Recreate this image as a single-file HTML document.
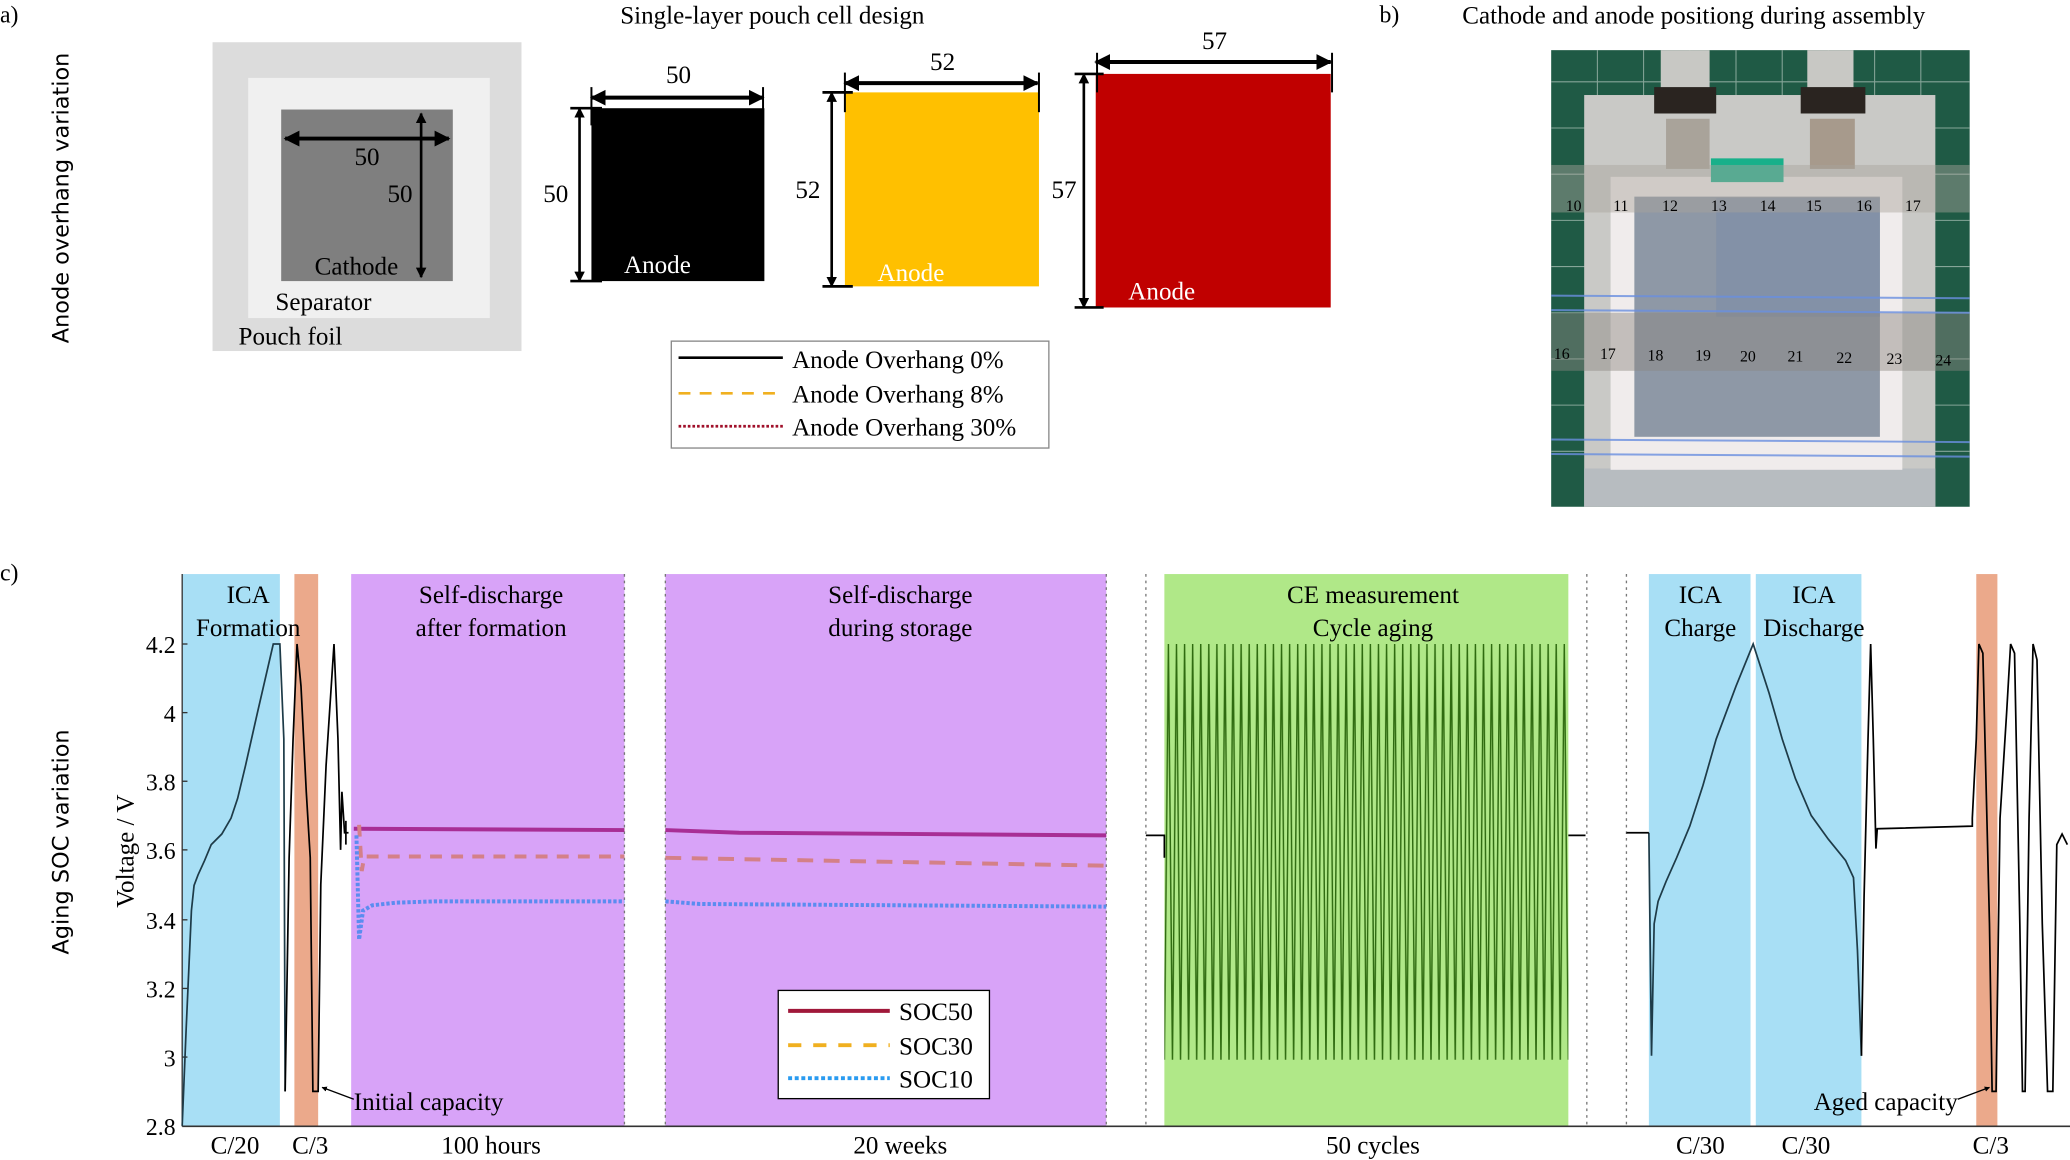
<!DOCTYPE html>
<html><head><meta charset="utf-8"><style>
html,body{margin:0;padding:0;background:#fff;width:2070px;height:1160px;overflow:hidden}
svg{display:block}
text{font-family:"Liberation Serif",serif;fill:#000}
</style></head><body>
<svg width="2070" height="1160" viewBox="0 0 1568 879" preserveAspectRatio="none" xmlns="http://www.w3.org/2000/svg">
<defs>
<marker id="ah" viewBox="0 0 10 10" refX="9" refY="5" markerWidth="4" markerHeight="4" orient="auto-start-reverse"><path d="M0,0L10,5L0,10z" fill="#000"/></marker>
<pattern id="zig" x="882" y="0" width="6.12" height="879" patternUnits="userSpaceOnUse">
<polyline points="0,803 3.06,488 6.12,803" fill="none" stroke="#2f6b10" stroke-width="1.1"/>
</pattern>
</defs>
<text x="0" y="17" font-size="18">a)</text>
<text x="1045" y="17" font-size="18">b)</text>
<text x="0" y="440" font-size="18">c)</text>
<text x="585" y="18" font-size="19" text-anchor="middle">Single-layer pouch cell design</text>
<text x="1283" y="18" font-size="19" text-anchor="middle">Cathode and anode positiong during assembly</text>
<text transform="translate(52,150) rotate(-90)" text-anchor="middle" style="font-family:'DejaVu Sans',sans-serif;font-size:17px">Anode overhang variation</text>
<text transform="translate(52,638) rotate(-90)" text-anchor="middle" style="font-family:'DejaVu Sans',sans-serif;font-size:17px">Aging SOC variation</text>

<rect x="161" y="32" width="234" height="234" fill="#dcdcdc"/>
<rect x="188" y="59" width="183" height="182" fill="#f0f0f0"/>
<rect x="213" y="83" width="130" height="130" fill="#7f7f7f"/>
<line x1="216" y1="105" x2="340" y2="105" stroke="#000" stroke-width="3" marker-start="url(#ah)" marker-end="url(#ah)"/>
<line x1="319" y1="86" x2="319" y2="210" stroke="#000" stroke-width="2" marker-start="url(#ah)" marker-end="url(#ah)"/>
<text x="278" y="125" font-size="19" text-anchor="middle">50</text>
<text x="303" y="153" font-size="19" text-anchor="middle">50</text>
<text x="270" y="208" font-size="19" text-anchor="middle">Cathode</text>
<text x="245" y="235" font-size="19" text-anchor="middle">Separator</text>
<text x="220" y="261" font-size="19" text-anchor="middle">Pouch foil</text>

<rect x="448" y="82" width="131" height="131" fill="#000"/>
<line x1="448" y1="74" x2="578" y2="74" stroke="#000" stroke-width="3" marker-start="url(#ah)" marker-end="url(#ah)"/>
<line x1="448" y1="66" x2="448" y2="95" stroke="#000" stroke-width="1.5"/><line x1="578" y1="66" x2="578" y2="95" stroke="#000" stroke-width="1.5"/>
<line x1="439" y1="82" x2="439" y2="213" stroke="#000" stroke-width="2" marker-start="url(#ah)" marker-end="url(#ah)"/>
<line x1="432" y1="82" x2="456" y2="82" stroke="#000" stroke-width="2"/><line x1="432" y1="213" x2="456" y2="213" stroke="#000" stroke-width="2"/>
<text x="514" y="63" font-size="19" text-anchor="middle">50</text>
<text x="421" y="153" font-size="19" text-anchor="middle">50</text>
<text x="498" y="207" font-size="19" text-anchor="middle" style="fill:#fff">Anode</text>

<rect x="640" y="70" width="147" height="147" fill="#ffc000"/>
<line x1="640" y1="63" x2="786" y2="63" stroke="#000" stroke-width="3" marker-start="url(#ah)" marker-end="url(#ah)"/>
<line x1="640" y1="55" x2="640" y2="85" stroke="#000" stroke-width="1.5"/><line x1="787" y1="55" x2="787" y2="85" stroke="#000" stroke-width="1.5"/>
<line x1="630" y1="70" x2="630" y2="217" stroke="#000" stroke-width="2" marker-start="url(#ah)" marker-end="url(#ah)"/>
<line x1="623" y1="70" x2="646" y2="70" stroke="#000" stroke-width="2"/><line x1="623" y1="217" x2="646" y2="217" stroke="#000" stroke-width="2"/>
<text x="714" y="53" font-size="19" text-anchor="middle">52</text>
<text x="612" y="150" font-size="19" text-anchor="middle">52</text>
<text x="690" y="213" font-size="19" text-anchor="middle" style="fill:#fff">Anode</text>

<rect x="830" y="56" width="178" height="177" fill="#c00000"/>
<line x1="830" y1="47" x2="1008" y2="47" stroke="#000" stroke-width="3" marker-start="url(#ah)" marker-end="url(#ah)"/>
<line x1="831" y1="40" x2="831" y2="70" stroke="#000" stroke-width="1.5"/><line x1="1009" y1="40" x2="1009" y2="70" stroke="#000" stroke-width="1.5"/>
<line x1="821" y1="56" x2="821" y2="233" stroke="#000" stroke-width="2" marker-start="url(#ah)" marker-end="url(#ah)"/>
<line x1="814" y1="56" x2="836" y2="56" stroke="#000" stroke-width="2"/><line x1="814" y1="233" x2="836" y2="233" stroke="#000" stroke-width="2"/>
<text x="920" y="37" font-size="19" text-anchor="middle">57</text>
<text x="806" y="150" font-size="19" text-anchor="middle">57</text>
<text x="880" y="227" font-size="19" text-anchor="middle" style="fill:#fff">Anode</text>

<rect x="508.5" y="258.5" width="286" height="81" fill="#fff" stroke="#888" stroke-width="1"/>
<line x1="514" y1="271" x2="593" y2="271" stroke="#000" stroke-width="2"/>
<line x1="514" y1="298" x2="593" y2="298" stroke="#f0b020" stroke-width="2" stroke-dasharray="9,7"/>
<line x1="514" y1="323" x2="593" y2="323" stroke="#a0102a" stroke-width="2" stroke-dasharray="2,1.5"/>
<text x="600" y="279" font-size="19">Anode Overhang 0%</text>
<text x="600" y="305" font-size="19">Anode Overhang 8%</text>
<text x="600" y="330" font-size="19">Anode Overhang 30%</text>

<rect x="1175" y="38" width="317" height="346" fill="#1f5a45"/>
<g stroke="#9fb8ad" stroke-width="0.8" opacity="0.8">
<line x1="1210" y1="38" x2="1210" y2="384"/><line x1="1245" y1="38" x2="1245" y2="384"/><line x1="1280" y1="38" x2="1280" y2="384"/><line x1="1315" y1="38" x2="1315" y2="384"/><line x1="1350" y1="38" x2="1350" y2="384"/><line x1="1385" y1="38" x2="1385" y2="384"/><line x1="1420" y1="38" x2="1420" y2="384"/><line x1="1455" y1="38" x2="1455" y2="384"/>
<line x1="1175" y1="62" x2="1492" y2="62"/><line x1="1175" y1="97" x2="1492" y2="97"/><line x1="1175" y1="132" x2="1492" y2="132"/><line x1="1175" y1="167" x2="1492" y2="167"/><line x1="1175" y1="202" x2="1492" y2="202"/><line x1="1175" y1="237" x2="1492" y2="237"/><line x1="1175" y1="272" x2="1492" y2="272"/><line x1="1175" y1="307" x2="1492" y2="307"/><line x1="1175" y1="342" x2="1492" y2="342"/>
</g>
<rect x="1258" y="38" width="37" height="80" fill="#c8c8c4"/>
<rect x="1369" y="38" width="35" height="80" fill="#c8c8c4"/>
<rect x="1200" y="72" width="266" height="312" fill="#c9c9c6"/>
<rect x="1200" y="355" width="266" height="29" fill="#b7bcc0"/>
<rect x="1262" y="90" width="33" height="38" fill="#a9a39a"/>
<rect x="1371" y="90" width="34" height="38" fill="#a79a8c"/>
<rect x="1253" y="66" width="47" height="20" fill="#2a2420"/>
<rect x="1364" y="66" width="49" height="20" fill="#2a2420"/>
<rect x="1220" y="134" width="221" height="222" fill="#f0ecec"/>
<rect x="1238" y="149" width="186" height="182" fill="#8e98a6"/>
<rect x="1300" y="150" width="124" height="90" fill="#7f8fa8" opacity="0.7"/>
<rect x="1296" y="120" width="55" height="18" fill="#18b08a"/>
<rect x="1175" y="125" width="317" height="36" fill="#a8a49c" opacity="0.45"/>
<rect x="1175" y="237" width="317" height="44" fill="#8c8880" opacity="0.45"/>
<g font-size="12" style="font-family:'Liberation Sans',sans-serif" fill="#222">
<text x="1186" y="160">10</text><text x="1222" y="160">11</text><text x="1259" y="160">12</text><text x="1296" y="160">13</text><text x="1333" y="160">14</text><text x="1368" y="160">15</text><text x="1406" y="160">16</text><text x="1443" y="160">17</text>
<text x="1177" y="272">16</text><text x="1212" y="272">17</text><text x="1248" y="273">18</text><text x="1284" y="273">19</text><text x="1318" y="274">20</text><text x="1354" y="274">21</text><text x="1391" y="275">22</text><text x="1429" y="276">23</text><text x="1466" y="277">24</text>
</g>
<g stroke="#6a8fe0" stroke-width="1.5" opacity="0.8"><line x1="1175" y1="224" x2="1492" y2="226"/><line x1="1175" y1="235" x2="1492" y2="237"/><line x1="1175" y1="333" x2="1492" y2="335"/><line x1="1175" y1="344" x2="1492" y2="346"/></g>

<rect x="138" y="435" width="74" height="418" fill="#a8dff5"/>
<rect x="223" y="435" width="18" height="418" fill="#eba98b"/>
<rect x="266" y="435" width="207" height="418" fill="#d8a3f8"/>
<rect x="504" y="435" width="334" height="418" fill="#d8a3f8"/>
<rect x="882" y="435" width="306" height="418" fill="#b0e888"/>
<rect x="1249" y="435" width="77" height="418" fill="#a8dff5"/>
<rect x="1330" y="435" width="80" height="418" fill="#a8dff5"/>
<rect x="1497" y="435" width="16" height="418" fill="#eba98b"/>
<g stroke="#777" stroke-width="1" stroke-dasharray="2,3">
<line x1="473" y1="435" x2="473" y2="853"/><line x1="504" y1="435" x2="504" y2="853"/>
<line x1="838" y1="435" x2="838" y2="853"/><line x1="868" y1="435" x2="868" y2="853"/>
<line x1="1202" y1="435" x2="1202" y2="853"/><line x1="1232" y1="435" x2="1232" y2="853"/>
</g>
<rect x="882" y="486" width="306" height="320" fill="url(#zig)"/>

<line x1="138" y1="435" x2="138" y2="853.5" stroke="#333" stroke-width="1"/>
<line x1="138" y1="853.5" x2="1568" y2="853.5" stroke="#333" stroke-width="1.2"/>
<g stroke="#333" stroke-width="1">
<line x1="138" y1="488" x2="142" y2="488"/><line x1="138" y1="540" x2="142" y2="540"/><line x1="138" y1="592" x2="142" y2="592"/><line x1="138" y1="644" x2="142" y2="644"/><line x1="138" y1="697" x2="142" y2="697"/><line x1="138" y1="749" x2="142" y2="749"/><line x1="138" y1="801" x2="142" y2="801"/>
</g>
<g font-size="18" text-anchor="end">
<text x="133" y="495">4.2</text><text x="133" y="547">4</text><text x="133" y="599">3.8</text><text x="133" y="651">3.6</text><text x="133" y="704">3.4</text><text x="133" y="756">3.2</text><text x="133" y="808">3</text><text x="133" y="860">2.8</text>
</g>
<text transform="translate(101,645) rotate(-90)" font-size="19" text-anchor="middle">Voltage / V</text>
<g font-size="19" text-anchor="middle">
<text x="178" y="874">C/20</text><text x="235" y="874">C/3</text><text x="372" y="874">100 hours</text><text x="682" y="874">20 weeks</text><text x="1040" y="874">50 cycles</text><text x="1288" y="874">C/30</text><text x="1368" y="874">C/30</text><text x="1508" y="874">C/3</text>
<text x="188" y="457">ICA</text><text x="188" y="482">Formation</text>
<text x="372" y="457">Self-discharge</text><text x="372" y="482">after formation</text>
<text x="682" y="457">Self-discharge</text><text x="682" y="482">during storage</text>
<text x="1040" y="457">CE measurement</text><text x="1040" y="482">Cycle aging</text>
<text x="1288" y="457">ICA</text><text x="1288" y="482">Charge</text>
<text x="1374" y="457">ICA</text><text x="1374" y="482">Discharge</text>
</g>

<g fill="none" stroke="#1e3b48" stroke-width="1.3">
<polyline points="138,853 141,780 145,690 147,671 150,663 155,652 160,640 168,632 175,620 180,605 186,580 195,540 207,488 212,488 215,560 216,827"/>
<polyline points="1249,631 1251,800 1253,700 1256,683 1262,668 1270,650 1280,626 1290,595 1300,560 1315,520 1328,488 1340,525 1350,560 1360,590 1372,618 1385,636 1398,652 1404,665 1407,720 1410,800"/>
</g>
<g fill="none" stroke="#000" stroke-width="1.3">
<polyline points="216,827 219,650 222,560 225,488 228,520 232,600 235,650 237,827 241,827 243,670 247,580 253,488 256,560 258,644 259,600 261,631 264,631"/>
<line x1="262" y1="622" x2="262" y2="640"/>
<polyline points="868,633 882,633 882,650"/>
<polyline points="1188,633 1201,633"/>
<polyline points="1232,631 1249,631"/>
<polyline points="1410,800 1412,680 1415,560 1417,488 1419,560 1421,643 1422,628 1494,626 1494,620 1497,560 1499,488 1502,495 1507,700 1509,827 1512,827 1515,620 1520,540 1523,488 1526,495 1530,700 1532,827 1534,827 1537,620 1540,488 1543,500 1547,700 1551,827 1555,827 1558,640 1562,632 1566,640"/>
</g>

<polyline points="268,628 473,629" fill="none" stroke="#a82e95" stroke-width="3"/>
<polyline points="504,629 560,631 838,633" fill="none" stroke="#a82e95" stroke-width="3"/>
<polyline points="272,625 274,660 276,649 473,649" fill="none" stroke="#d48088" stroke-width="3" stroke-dasharray="9,7"/>
<polyline points="504,650 838,656" fill="none" stroke="#d48088" stroke-width="3" stroke-dasharray="12,8"/>
<polyline points="270,633 272,712 275,690 282,686 300,684 330,683 473,683" fill="none" stroke="#5b8cf0" stroke-width="3" stroke-dasharray="2.5,1.5"/>
<polyline points="504,683 530,685 838,687" fill="none" stroke="#5b8cf0" stroke-width="3" stroke-dasharray="2.5,1.5"/>

<line x1="268" y1="833" x2="244" y2="824" stroke="#000" stroke-width="1" marker-end="url(#ah)"/>
<text x="268" y="841" font-size="19">Initial capacity</text>
<line x1="1483" y1="833" x2="1507" y2="824" stroke="#000" stroke-width="1" marker-end="url(#ah)"/>
<text x="1483" y="841" font-size="19" text-anchor="end">Aged capacity</text>

<rect x="589.5" y="750.5" width="160" height="82" fill="#fff" stroke="#000" stroke-width="1"/>
<line x1="597" y1="766" x2="674" y2="766" stroke="#a0183a" stroke-width="3"/>
<line x1="597" y1="792" x2="674" y2="792" stroke="#f0b020" stroke-width="3" stroke-dasharray="10,9"/>
<line x1="597" y1="817" x2="674" y2="817" stroke="#2a9bf0" stroke-width="3" stroke-dasharray="3,2"/>
<text x="681" y="773" font-size="19">SOC50</text>
<text x="681" y="799" font-size="19">SOC30</text>
<text x="681" y="824" font-size="19">SOC10</text>
</svg>
</body></html>
